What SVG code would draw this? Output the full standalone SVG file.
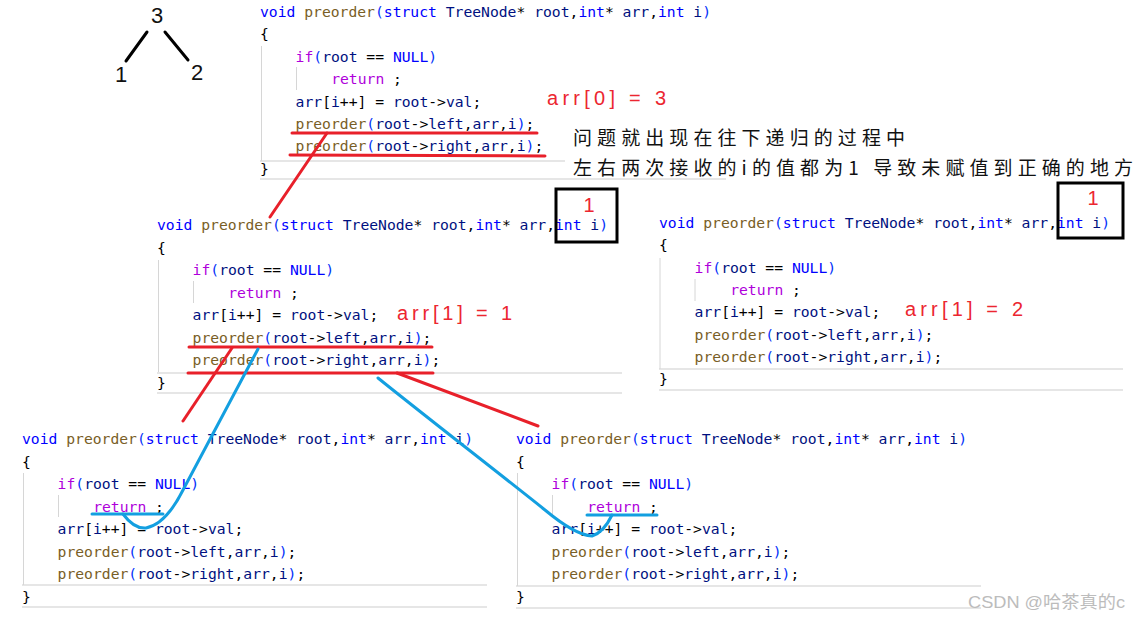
<svg xmlns="http://www.w3.org/2000/svg" width="1138" height="619" viewBox="0 0 1138 619">
<style>
.code{font-family:"DejaVu Sans Mono","Liberation Mono",monospace;font-size:14.7px;fill:#000}
.k{fill:#0000ff}.f{fill:#795e26}.v{fill:#001080}.c{fill:#af00db}.p{fill:#0431fa}
.guide{stroke:#d6d6d6;stroke-width:1}
.hl{stroke:#e6e6e6;stroke-width:2}
.red{stroke:#e8202a;stroke-width:3;fill:none;stroke-linecap:round}
.blue{stroke:#139fe0;stroke-width:3;fill:none;stroke-linecap:round;stroke-linejoin:round}
.box{stroke:#000;stroke-width:3;fill:none}
.rl{font-family:"Liberation Sans",Arial,sans-serif;font-size:20px;fill:#ec2630}
.num{font-family:"Liberation Sans",Arial,sans-serif;font-size:22px;fill:#111}
.cn{font-family:"Noto Sans CJK SC","Noto Sans",sans-serif;font-size:19px;fill:#111}
.tree{stroke:#000;stroke-width:3;stroke-linecap:round}
</style>
<rect width="1138" height="619" fill="#fff"/>

<g id="tree">
<line class="tree" x1="147" y1="32" x2="126" y2="61"/>
<line class="tree" x1="165" y1="32" x2="188" y2="60"/>
<text class="num" x="157" y="23" text-anchor="middle">3</text>
<text class="num" x="121" y="82" text-anchor="middle">1</text>
<text class="num" x="197" y="80" text-anchor="middle">2</text>
</g>

<g id="call-root">
<line class="hl" x1="260" y1="161" x2="565" y2="161"/>
<line class="hl" x1="260" y1="179" x2="726" y2="179"/>
<line class="guide" x1="261.5" y1="46" x2="261.5" y2="161"/>
<line class="guide" x1="296.5" y1="67" x2="296.5" y2="90"/>
<text class="code" xml:space="preserve" x="260" y="17"><tspan class="k">void</tspan> <tspan class="f">preorder</tspan><tspan class="p">(</tspan><tspan class="k">struct</tspan> <tspan class="v">TreeNode</tspan>* <tspan class="v">root</tspan>,<tspan class="k">int</tspan>* <tspan class="v">arr</tspan>,<tspan class="k">int</tspan> <tspan class="v">i</tspan><tspan class="p">)</tspan></text>
<text class="code" x="260" y="39.4">{</text>
<text class="code" xml:space="preserve" x="295.6" y="61.8"><tspan class="c">if</tspan><tspan class="p">(</tspan><tspan class="v">root</tspan> == <tspan class="k">NULL</tspan><tspan class="p">)</tspan></text>
<text class="code" xml:space="preserve" x="331.2" y="84.2"><tspan class="c">return</tspan> ;</text>
<text class="code" xml:space="preserve" x="295.6" y="106.6"><tspan class="v">arr</tspan>[<tspan class="v">i</tspan>++] = <tspan class="v">root</tspan>-&gt;<tspan class="v">val</tspan>;</text>
<text class="code" xml:space="preserve" x="295.6" y="129"><tspan class="f">preorder</tspan><tspan class="p">(</tspan><tspan class="v">root</tspan>-&gt;<tspan class="v">left</tspan>,<tspan class="v">arr</tspan>,<tspan class="v">i</tspan><tspan class="p">)</tspan>;</text>
<text class="code" xml:space="preserve" x="295.6" y="151.4"><tspan class="f">preorder</tspan><tspan class="p">(</tspan><tspan class="v">root</tspan>-&gt;<tspan class="v">right</tspan>,<tspan class="v">arr</tspan>,<tspan class="v">i</tspan><tspan class="p">)</tspan>;</text>
<text class="code" x="260" y="173.8">}</text>
<text class="rl" x="547" y="105" textLength="119" lengthAdjust="spacing">arr[0] = 3</text>
</g>

<g id="note">
<text class="cn" x="573" y="145" textLength="332" lengthAdjust="spacing">问题就出现在往下递归的过程中</text>
<text class="cn" x="573" y="175" textLength="560" lengthAdjust="spacing">左右两次接收的i的值都为1 导致未赋值到正确的地方</text>
</g>

<g id="call-left">
<line class="hl" x1="157" y1="373" x2="622" y2="373"/>
<line class="hl" x1="157" y1="393" x2="622" y2="393"/>
<line class="guide" x1="158.5" y1="260" x2="158.5" y2="372"/>
<line class="guide" x1="193.5" y1="281" x2="193.5" y2="303"/>
<text class="code" xml:space="preserve" x="157" y="230"><tspan class="k">void</tspan> <tspan class="f">preorder</tspan><tspan class="p">(</tspan><tspan class="k">struct</tspan> <tspan class="v">TreeNode</tspan>* <tspan class="v">root</tspan>,<tspan class="k">int</tspan>* <tspan class="v">arr</tspan>,<tspan class="k">int</tspan> <tspan class="v">i</tspan><tspan class="p">)</tspan></text>
<text class="code" x="157" y="252.5">{</text>
<text class="code" xml:space="preserve" x="192.6" y="275"><tspan class="c">if</tspan><tspan class="p">(</tspan><tspan class="v">root</tspan> == <tspan class="k">NULL</tspan><tspan class="p">)</tspan></text>
<text class="code" xml:space="preserve" x="228.2" y="297.5"><tspan class="c">return</tspan> ;</text>
<text class="code" xml:space="preserve" x="192.6" y="320"><tspan class="v">arr</tspan>[<tspan class="v">i</tspan>++] = <tspan class="v">root</tspan>-&gt;<tspan class="v">val</tspan>;</text>
<text class="code" xml:space="preserve" x="192.6" y="342.5"><tspan class="f">preorder</tspan><tspan class="p">(</tspan><tspan class="v">root</tspan>-&gt;<tspan class="v">left</tspan>,<tspan class="v">arr</tspan>,<tspan class="v">i</tspan><tspan class="p">)</tspan>;</text>
<text class="code" xml:space="preserve" x="192.6" y="365"><tspan class="f">preorder</tspan><tspan class="p">(</tspan><tspan class="v">root</tspan>-&gt;<tspan class="v">right</tspan>,<tspan class="v">arr</tspan>,<tspan class="v">i</tspan><tspan class="p">)</tspan>;</text>
<text class="code" x="157" y="387.5">}</text>
<rect class="box" x="556" y="189" width="61" height="53"/>
<text class="rl" x="589" y="212" text-anchor="middle">1</text>
<text class="rl" x="397" y="320" textLength="115" lengthAdjust="spacing">arr[1] = 1</text>
</g>

<g id="call-right">
<line class="hl" x1="659" y1="369" x2="1123" y2="369"/>
<line class="hl" x1="659" y1="390" x2="1123" y2="390"/>
<line class="guide" x1="660" y1="258" x2="660" y2="369"/>
<line class="guide" x1="695" y1="279" x2="695" y2="301"/>
<text class="code" xml:space="preserve" x="659" y="228"><tspan class="k">void</tspan> <tspan class="f">preorder</tspan><tspan class="p">(</tspan><tspan class="k">struct</tspan> <tspan class="v">TreeNode</tspan>* <tspan class="v">root</tspan>,<tspan class="k">int</tspan>* <tspan class="v">arr</tspan>,<tspan class="k">int</tspan> <tspan class="v">i</tspan><tspan class="p">)</tspan></text>
<text class="code" x="659" y="250.3">{</text>
<text class="code" xml:space="preserve" x="694.6" y="272.6"><tspan class="c">if</tspan><tspan class="p">(</tspan><tspan class="v">root</tspan> == <tspan class="k">NULL</tspan><tspan class="p">)</tspan></text>
<text class="code" xml:space="preserve" x="730.2" y="294.9"><tspan class="c">return</tspan> ;</text>
<text class="code" xml:space="preserve" x="694.6" y="317.2"><tspan class="v">arr</tspan>[<tspan class="v">i</tspan>++] = <tspan class="v">root</tspan>-&gt;<tspan class="v">val</tspan>;</text>
<text class="code" xml:space="preserve" x="694.6" y="339.5"><tspan class="f">preorder</tspan><tspan class="p">(</tspan><tspan class="v">root</tspan>-&gt;<tspan class="v">left</tspan>,<tspan class="v">arr</tspan>,<tspan class="v">i</tspan><tspan class="p">)</tspan>;</text>
<text class="code" xml:space="preserve" x="694.6" y="361.8"><tspan class="f">preorder</tspan><tspan class="p">(</tspan><tspan class="v">root</tspan>-&gt;<tspan class="v">right</tspan>,<tspan class="v">arr</tspan>,<tspan class="v">i</tspan><tspan class="p">)</tspan>;</text>
<text class="code" x="659" y="384.1">}</text>
<rect class="box" x="1058" y="183" width="65" height="55"/>
<text class="rl" x="1093" y="205" text-anchor="middle">1</text>
<text class="rl" x="905" y="316" textLength="118" lengthAdjust="spacing">arr[1] = 2</text>
</g>

<g id="call-left-null">
<line class="hl" x1="22" y1="585" x2="487" y2="585"/>
<line class="hl" x1="22" y1="607" x2="487" y2="607"/>
<line class="guide" x1="23.5" y1="473" x2="23.5" y2="585"/>
<line class="guide" x1="58.5" y1="495" x2="58.5" y2="517"/>
<text class="code" xml:space="preserve" x="22" y="444"><tspan class="k">void</tspan> <tspan class="f">preorder</tspan><tspan class="p">(</tspan><tspan class="k">struct</tspan> <tspan class="v">TreeNode</tspan>* <tspan class="v">root</tspan>,<tspan class="k">int</tspan>* <tspan class="v">arr</tspan>,<tspan class="k">int</tspan> <tspan class="v">i</tspan><tspan class="p">)</tspan></text>
<text class="code" x="22" y="466.5">{</text>
<text class="code" xml:space="preserve" x="57.6" y="489"><tspan class="c">if</tspan><tspan class="p">(</tspan><tspan class="v">root</tspan> == <tspan class="k">NULL</tspan><tspan class="p">)</tspan></text>
<text class="code" xml:space="preserve" x="93.2" y="511.5"><tspan class="c">return</tspan> ;</text>
<text class="code" xml:space="preserve" x="57.6" y="534"><tspan class="v">arr</tspan>[<tspan class="v">i</tspan>++] = <tspan class="v">root</tspan>-&gt;<tspan class="v">val</tspan>;</text>
<text class="code" xml:space="preserve" x="57.6" y="556.5"><tspan class="f">preorder</tspan><tspan class="p">(</tspan><tspan class="v">root</tspan>-&gt;<tspan class="v">left</tspan>,<tspan class="v">arr</tspan>,<tspan class="v">i</tspan><tspan class="p">)</tspan>;</text>
<text class="code" xml:space="preserve" x="57.6" y="579"><tspan class="f">preorder</tspan><tspan class="p">(</tspan><tspan class="v">root</tspan>-&gt;<tspan class="v">right</tspan>,<tspan class="v">arr</tspan>,<tspan class="v">i</tspan><tspan class="p">)</tspan>;</text>
<text class="code" x="22" y="601.5">}</text>
</g>

<g id="call-right-null">
<line class="hl" x1="516" y1="586" x2="981" y2="586"/>
<line class="hl" x1="516" y1="608" x2="981" y2="608"/>
<line class="guide" x1="517.5" y1="473" x2="517.5" y2="586"/>
<line class="guide" x1="552.5" y1="495" x2="552.5" y2="517"/>
<text class="code" xml:space="preserve" x="516" y="444"><tspan class="k">void</tspan> <tspan class="f">preorder</tspan><tspan class="p">(</tspan><tspan class="k">struct</tspan> <tspan class="v">TreeNode</tspan>* <tspan class="v">root</tspan>,<tspan class="k">int</tspan>* <tspan class="v">arr</tspan>,<tspan class="k">int</tspan> <tspan class="v">i</tspan><tspan class="p">)</tspan></text>
<text class="code" x="516" y="466.5">{</text>
<text class="code" xml:space="preserve" x="551.6" y="489"><tspan class="c">if</tspan><tspan class="p">(</tspan><tspan class="v">root</tspan> == <tspan class="k">NULL</tspan><tspan class="p">)</tspan></text>
<text class="code" xml:space="preserve" x="587.2" y="511.5"><tspan class="c">return</tspan> ;</text>
<text class="code" xml:space="preserve" x="551.6" y="534"><tspan class="v">arr</tspan>[<tspan class="v">i</tspan>++] = <tspan class="v">root</tspan>-&gt;<tspan class="v">val</tspan>;</text>
<text class="code" xml:space="preserve" x="551.6" y="556.5"><tspan class="f">preorder</tspan><tspan class="p">(</tspan><tspan class="v">root</tspan>-&gt;<tspan class="v">left</tspan>,<tspan class="v">arr</tspan>,<tspan class="v">i</tspan><tspan class="p">)</tspan>;</text>
<text class="code" xml:space="preserve" x="551.6" y="579"><tspan class="f">preorder</tspan><tspan class="p">(</tspan><tspan class="v">root</tspan>-&gt;<tspan class="v">right</tspan>,<tspan class="v">arr</tspan>,<tspan class="v">i</tspan><tspan class="p">)</tspan>;</text>
<text class="code" x="516" y="601.5">}</text>
</g>

<g id="connectors">
<line class="red" x1="292" y1="133" x2="537" y2="133"/>
<line class="red" x1="290" y1="155" x2="545" y2="156"/>
<line class="red" x1="327" y1="133" x2="270" y2="217"/>
<line class="red" x1="189" y1="347" x2="432" y2="347"/>
<line class="red" x1="188" y1="373" x2="433" y2="373"/>
<line class="red" x1="232" y1="348" x2="183" y2="421"/>
<line class="red" x1="397" y1="373" x2="538" y2="426"/>
<line class="blue" x1="92" y1="514" x2="163" y2="514"/>
<line class="blue" x1="587" y1="515" x2="657" y2="515"/>
<path class="blue" d="M258,349 L183,490 Q166,524 146,528 Q134,529 123,514"/>
<path class="blue" d="M378,378 C420,412 500,474 545,510 Q575,535 592,536 Q604,532 612,515"/>
</g>

<text x="968" y="608" textLength="157" lengthAdjust="spacingAndGlyphs" style="font-family:'Liberation Sans','Noto Sans CJK SC',sans-serif;font-size:17px;fill:#bcbcbc">CSDN @哈茶真的c</text>
</svg>
